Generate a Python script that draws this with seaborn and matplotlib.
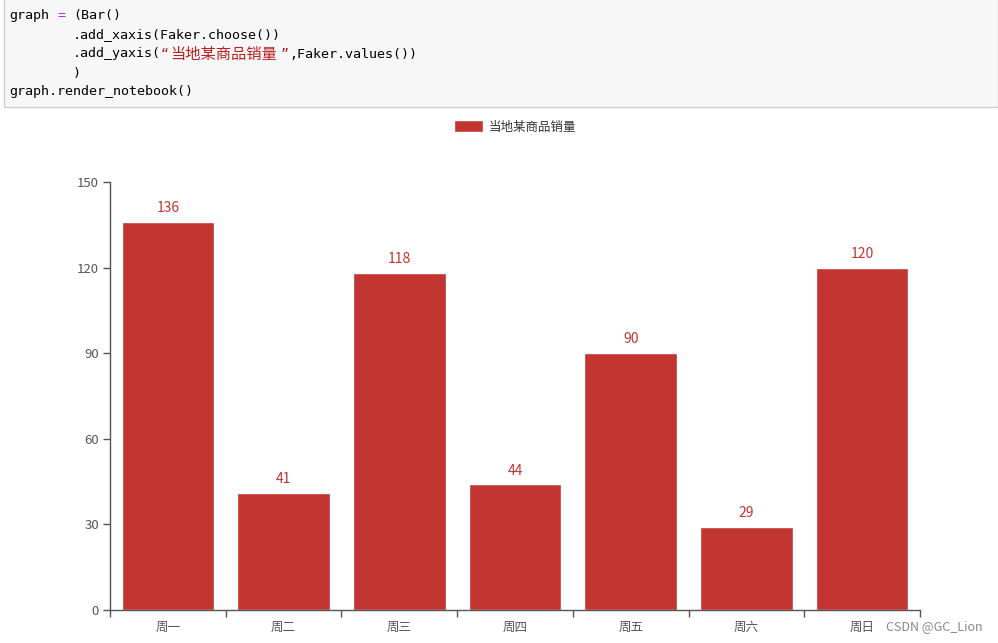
import matplotlib
matplotlib.use("Agg")
import matplotlib.pyplot as plt
import seaborn as sns
from matplotlib.patches import Rectangle

days = ["周一", "周二", "周三", "周四", "周五", "周六", "周日"]
sales = [136, 41, 118, 44, 90, 29, 120]
series_name = "当地某商品销量"
y_ticks = [0, 30, 60, 90, 120, 150]

bar_color = "#c23531"
axis_color = "#555555"

sns.set_theme(style="white")
plt.rcParams["font.family"] = ["Noto Sans CJK SC", "DejaVu Sans"]

W, H = 998, 643
fig = plt.figure(figsize=(W / 100, H / 100), dpi=100)

# notebook code cell on top
fig.patches.append(Rectangle((4 / W, 1 - 107 / H), 994 / W, 107 / H + 0.01,
                             transform=fig.transFigure, facecolor="#f7f7f7",
                             edgecolor="#cfcfcf", linewidth=1))


def code(col, row, text, color="black", cjk=False):
    x = (9 + col * 8) / W
    y = 1 - (16 + row * 19) / H
    fam = ["Noto Sans CJK SC"] if cjk else ["DejaVu Sans Mono", "Noto Sans CJK SC"]
    fig.text(x, y, text, family=fam, fontsize=11 if cjk else 9.6,
             color=color, va="center", ha="left")


code(0, 0, "graph")
code(6, 0, "=", color="#aa22ff")
code(8, 0, "(Bar()")
code(8, 1, ".add_xaxis(Faker.choose())")
code(8, 2, ".add_yaxis(")
code(19, 2, "\u201c", color="#ba2121")
code(20.1, 2, series_name, color="#ba2121", cjk=True)
code(34, 2, "\u201d", color="#ba2121")
code(35, 2, ",Faker.values())")
code(8, 3, ")")
code(0, 4, "graph.render_notebook()")

# bar chart
ax = fig.add_axes([110 / W, 33 / H, 810 / W, 428 / H])
sns.barplot(x=days, y=sales, color=bar_color, saturation=1, width=0.8,
            label=series_name, ax=ax)
for c in ax.containers:
    ax.bar_label(c, padding=5, color=bar_color, fontsize=10)

ax.set_ylim(0, 150)
ax.set_yticks(y_ticks)
ax.set_xlim(-0.5, len(days) - 0.5)
ax.set_xticks([i - 0.5 for i in range(len(days) + 1)], minor=True)
ax.tick_params(axis="x", which="major", length=0, pad=8, labelsize=9,
               labelcolor=axis_color)
ax.tick_params(axis="x", which="minor", length=5, width=1, color=axis_color,
               bottom=True)
ax.tick_params(axis="y", length=5, width=1, color=axis_color, left=True,
               labelsize=9.5, labelcolor=axis_color, pad=3)
for s in ["top", "right"]:
    ax.spines[s].set_visible(False)
for s in ["left", "bottom"]:
    ax.spines[s].set_color(axis_color)
    ax.spines[s].set_linewidth(1)
ax.set_xlabel("")
ax.set_ylabel("")
ax.grid(False)

ax.legend(loc="center", bbox_to_anchor=(515 / W, 1 - 127 / H),
          bbox_transform=fig.transFigure, frameon=False, fontsize=9,
          handlelength=2.3, handleheight=1.1, handletextpad=0.4,
          labelcolor="#333333")

fig.text(983 / W, 1 - 627 / H, "CSDN @GC_Lion", color="#888888",
         fontsize=9, ha="right", va="center")

fig.savefig("out.png", dpi=100)
